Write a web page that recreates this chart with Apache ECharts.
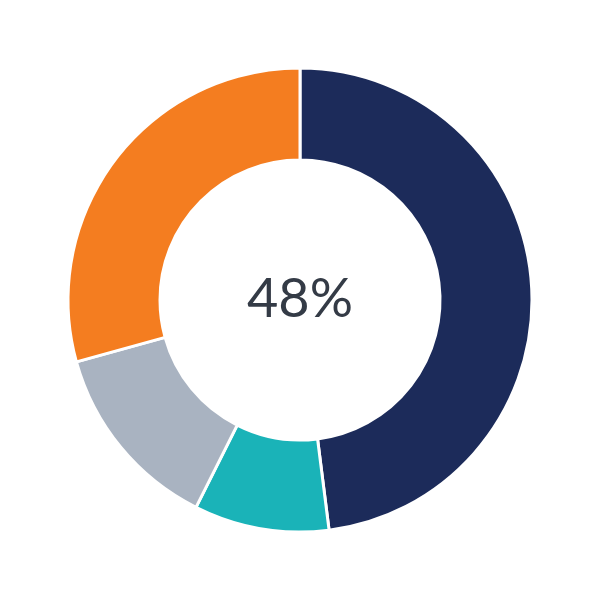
<!DOCTYPE html>
<html><head><meta charset="utf-8">
<script src="https://cdn.jsdelivr.net/npm/echarts@6/dist/echarts.min.js"></script>
<style>html,body{margin:0;padding:0;background:#fff}#c{width:600px;height:600px}</style>
</head><body><div id="c"></div>
<script>
const categories = ['A', 'B', 'C', 'D'];
const values = [48, 9.4, 13.3, 29.3];
const colors = ['#1c2b5a', '#1ab3b8', '#a9b3c1', '#f47d20'];
const centerLabel = '48%';

const chart = echarts.init(document.getElementById('c'));
chart.setOption({
  animation: false,
  graphic: [{
    type: 'text', left: 'center', top: 'middle',
    style: { text: centerLabel, fontSize: 54, fontFamily: 'Lato', fontWeight: 'normal', fill: '#343b46' }
  }],
  series: [{
    type: 'pie',
    center: [300, 300],
    radius: [140, 232],
    startAngle: 90,
    clockwise: true,
    label: { show: false },
    labelLine: { show: false },
    emphasis: { disabled: true },
    itemStyle: { borderColor: '#fff', borderWidth: 3 },
    data: categories.map((n, i) => ({ name: n, value: values[i], itemStyle: { color: colors[i] } }))
  }]
});
</script></body></html>
